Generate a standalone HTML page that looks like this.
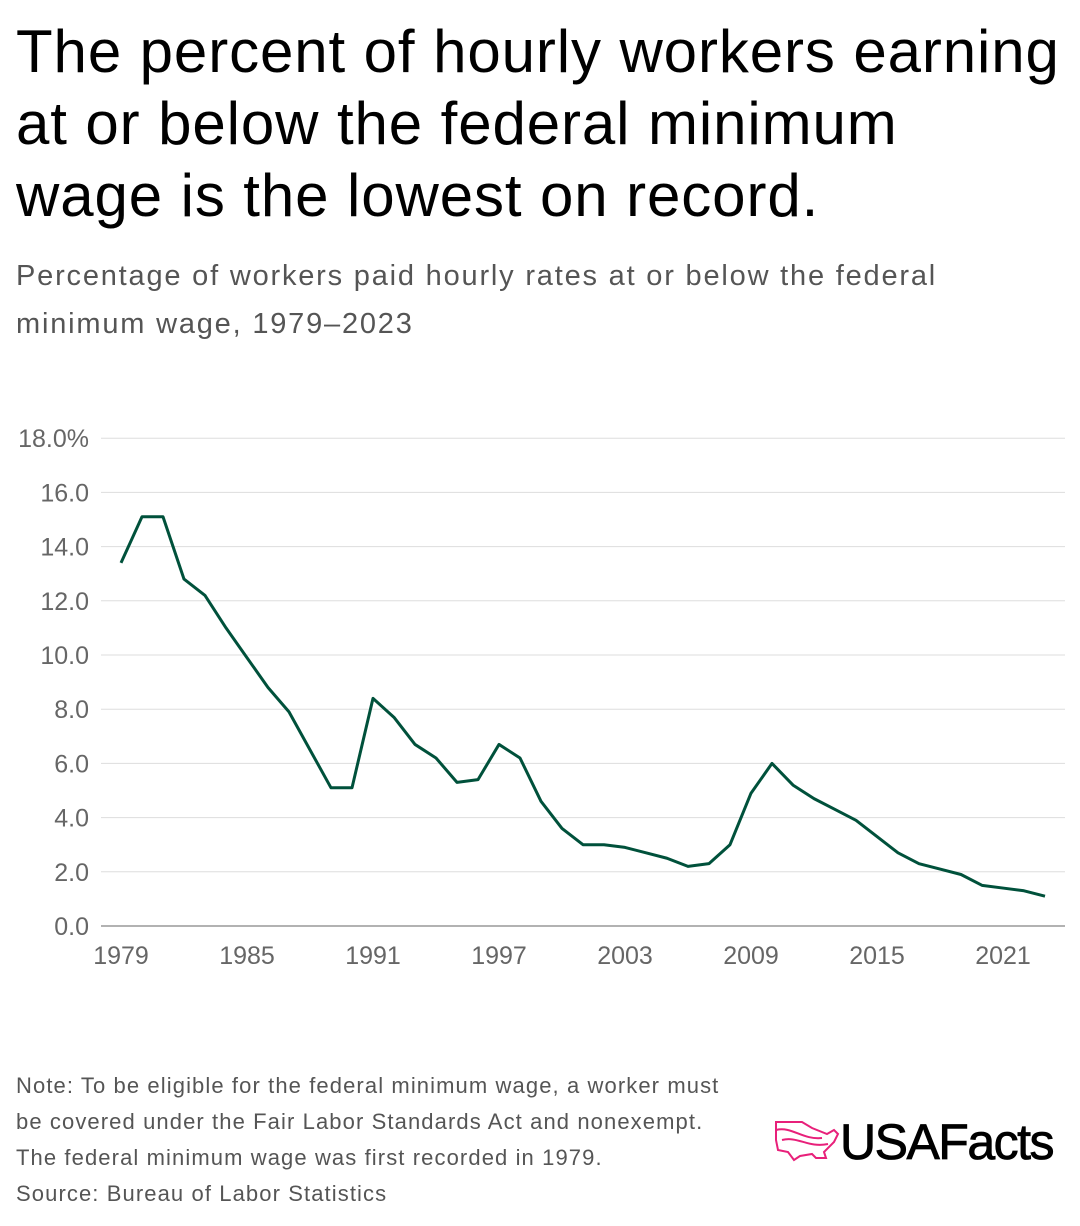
<!DOCTYPE html>
<html><head><meta charset="utf-8"><style>
body{margin:0;background:#fff;width:1080px;height:1226px;overflow:hidden;font-family:"Liberation Sans",sans-serif;position:relative}
h1{position:absolute;left:16px;top:16px;margin:0;font-size:60px;line-height:72px;font-weight:400;color:#000;letter-spacing:0.9px;white-space:nowrap}
.sub{position:absolute;left:16px;top:252px;font-size:29px;line-height:48px;color:#555;letter-spacing:1.8px;white-space:nowrap}
.note{position:absolute;left:16px;top:1068px;font-size:22px;line-height:36px;color:#555;letter-spacing:1.1px;white-space:nowrap}
.logo{position:absolute;left:772px;top:1112px}
</style></head><body>
<h1>The percent of hourly workers earning<br>at or below the federal minimum<br>wage is the lowest on record.</h1>
<div class="sub">Percentage of workers paid hourly rates at or below the federal<br>minimum wage, 1979–2023</div>
<svg id="chart" width="1080" height="1226" style="position:absolute;left:0;top:0"></svg>
<div class="note">Note: To be eligible for the federal minimum wage, a worker must<br>be covered under the Fair Labor Standards Act and nonexempt.<br>The federal minimum wage was first recorded in 1979.<br>Source: Bureau of Labor Statistics</div>
<div class="logo">
<svg width="300" height="60" style="display:block">
<path d="M4 10 L30 10 L40 16 L55 22 L62 18 L66 22 L62 30 L52 40 L54 46 L44 46 L40 42 L28 44 L22 48 L16 40 L6 38 L4 28 Z" fill="none" stroke="#e8207a" stroke-width="2"/>
<path d="M4 18 C20 14 30 28 50 26 M10 28 C26 24 36 36 56 32" fill="none" stroke="#e8207a" stroke-width="2"/>
<text x="68" y="47" font-family="Liberation Sans,sans-serif" font-size="50" fill="#000" stroke="#000" stroke-width="0.8" letter-spacing="-1.5">USAFacts</text>
</svg></div>
<script>
const years=[1979,1980,1981,1982,1983,1984,1985,1986,1987,1988,1989,1990,1991,1992,1993,1994,1995,1996,1997,1998,1999,2000,2001,2002,2003,2004,2005,2006,2007,2008,2009,2010,2011,2012,2013,2014,2015,2016,2017,2018,2019,2020,2021,2022,2023];
const values=[13.4,15.1,15.1,12.8,12.2,11.0,9.9,8.8,7.9,6.5,5.1,5.1,8.4,7.7,6.7,6.2,5.3,5.4,6.7,6.2,4.6,3.6,3.0,3.0,2.9,2.7,2.5,2.2,2.3,3.0,4.9,6.0,5.2,4.7,4.3,3.9,3.3,2.7,2.3,2.1,1.9,1.5,1.4,1.3,1.1];
const yTicks=[0,2,4,6,8,10,12,14,16,18];
const yTickLabels=["0.0","2.0","4.0","6.0","8.0","10.0","12.0","14.0","16.0","18.0%"];
const xTicks=[1979,1985,1991,1997,2003,2009,2015,2021];
const svg=document.getElementById('chart');const NS='http://www.w3.org/2000/svg';
const x=v=>121+(v-1979)*21;
const y=v=>926-v*27.1;
function mk(t,a){const e=document.createElementNS(NS,t);for(const k in a)e.setAttribute(k,a[k]);svg.appendChild(e);return e;}
yTicks.forEach((t,i)=>{
 const l=mk('line',{x1:101,x2:1065,y1:y(t),y2:y(t),stroke:t===0?'#999':'#ddd','stroke-width':t===0?1.5:1});
 
 
 const tx=mk('text',{x:89,y:y(t)+9,'text-anchor':'end','font-size':25,fill:'#666','font-family':'Liberation Sans,sans-serif'});
 tx.textContent=yTickLabels[i];
 
 
});
xTicks.forEach(t=>{
 const tx=mk('text',{x:x(t),y:964,'text-anchor':'middle','font-size':25,fill:'#666','font-family':'Liberation Sans,sans-serif'});
 tx.textContent=t;
 
 
});
const p=mk('polyline',{points:years.map((yr,i)=>x(yr)+','+y(values[i])).join(' '),fill:'none',stroke:'#00513b','stroke-width':3,'stroke-linejoin':'round'});


</script>
</body></html>
